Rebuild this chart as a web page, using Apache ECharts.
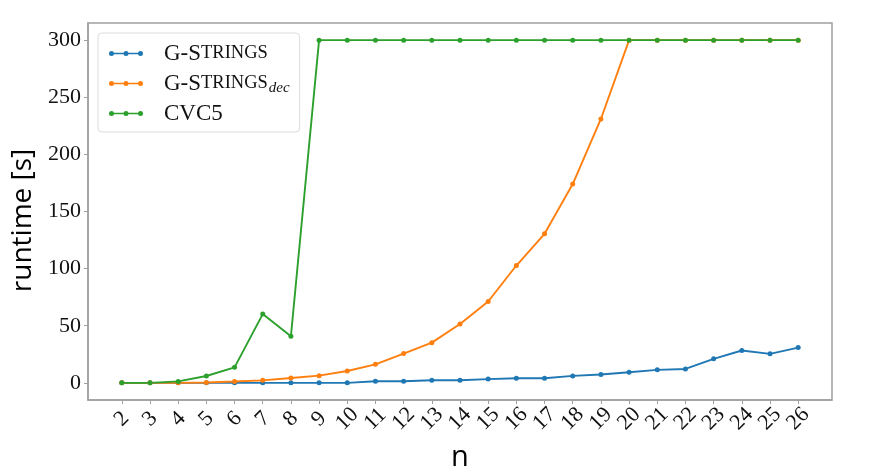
<!DOCTYPE html>
<html><head><meta charset="utf-8">
<script src="https://cdn.jsdelivr.net/npm/echarts@6/dist/echarts.min.js"></script>
<style>html,body{margin:0;padding:0;background:#fff}#c{width:877px;height:467px}</style>
</head><body><div id="c"></div>
<script>
const nValues = [2,3,4,5,6,7,8,9,10,11,12,13,14,15,16,17,18,19,20,21,22,23,24,25,26];
const gStrings = [0,0,0,0,0,0,0,0,0,1.4,1.4,2.3,2.3,3.3,4,4,6.1,7.3,9.3,11.4,12.2,21,28.3,25.4,30.9];
const gStringsDec = [0,0,0,0.3,1.2,2.2,4.3,6.3,10.4,16.2,25.6,35.2,51.5,71.2,102.7,130.5,174,231,300,300,300,300,300,300,300];
const cvc5 = [0,0,1.3,6,13.6,60.2,40.8,300,300,300,300,300,300,300,300,300,300,300,300,300,300,300,300,300,300];
const yTicks = [0,50,100,150,200,250,300];
const seriesNames = ['G-Strings','G-Strings_dec','CVC5'];
const colors = ['#1f77b4','#ff7f0e','#2ca02c'];

const pairs = arr => nValues.map((n,i)=>[n,arr[i]]);
const evenN = nValues.filter((n,i)=>i%2===0);
const oddN = nValues.filter((n,i)=>i%2===1);
const chart = echarts.init(document.getElementById('c'));
const serif = 'Liberation Serif';
const axisGray = '#a0a0a0';
const legendIcon = 'path://M2.5,1.7L31.5,1.7L31.5,3.3L2.5,3.3Z' +
  'M0,2.5a2.5,2.5 0 1,1 5,0a2.5,2.5 0 1,1 -5,0Z' +
  'M14.5,2.5a2.5,2.5 0 1,1 5,0a2.5,2.5 0 1,1 -5,0Z' +
  'M29,2.5a2.5,2.5 0 1,1 5,0a2.5,2.5 0 1,1 -5,0Z';
const mk = (name, data, color) => ({
  name, type:'line', data: pairs(data), symbol:'circle', symbolSize:5,
  lineStyle:{width:1.9,color}, itemStyle:{color}, z: 3
});
const xLabelStyle = vals => ({customValues:vals,rotate:45,align:'center',verticalAlign:'middle',margin:19,
  hideOverlap:false,fontFamily:serif,fontSize:22,color:'#111',formatter:v=>String(v)});
chart.setOption({
  animation:false,
  grid:{left:88,right:45,top:23,bottom:67,containLabel:false,outerBoundsMode:'none',
    show:true,borderColor:axisGray,borderWidth:1.5,backgroundColor:'#fff'},
  xAxis:[{type:'value',min:0.8,max:27.2,position:'bottom',
    name:'n',nameLocation:'middle',nameGap:43,
    nameTextStyle:{fontFamily:'Open Sans',fontSize:29,color:'#000'},
    axisLine:{show:true,onZero:false,lineStyle:{color:axisGray,width:1.5}},
    axisTick:{show:true,length:4,lineStyle:{color:axisGray},customValues:nValues},
    axisLabel:xLabelStyle(evenN),
    splitLine:{show:false}},
   {type:'value',min:0.8,max:27.2,position:'bottom',offset:0,
    axisLine:{show:false,onZero:false},axisTick:{show:false},
    axisLabel:xLabelStyle(oddN),
    splitLine:{show:false}}],
  yAxis:{type:'value',min:-15,max:315,
    name:'runtime [s]',nameLocation:'middle',nameGap:39,
    nameTextStyle:{fontFamily:'Open Sans',fontSize:28,color:'#000',padding:[0,18,0,0]},
    axisLine:{show:true,onZero:false,lineStyle:{color:axisGray,width:1.5}},
    axisTick:{show:true,length:4,lineStyle:{color:axisGray},customValues:yTicks},
    axisLabel:{customValues:yTicks,margin:7,fontFamily:serif,fontSize:22,color:'#111'},
    splitLine:{show:false}},
  legend:{orient:'vertical',left:98,top:33,itemWidth:34,itemHeight:5,itemGap:6,
    padding:[9,10,7,11],backgroundColor:'#fff',borderColor:'#dcdcdc',borderWidth:1,borderRadius:4,
    icon:legendIcon, itemStyle:{borderWidth:0},
    data:seriesNames,
    formatter:function(name){
      if(name==='G-Strings') return '{a|G-S}{b|TRINGS}';
      if(name==='G-Strings_dec') return '{a|G-S}{b|TRINGS}{c|dec}';
      return '{a|'+name+'}';
    },
    textStyle:{padding:[0,0,0,16],rich:{
      a:{fontFamily:serif,fontSize:23,color:'#111',lineHeight:23},
      b:{fontFamily:serif,fontSize:18.5,color:'#111',lineHeight:23},
      c:{fontFamily:serif,fontSize:15,fontStyle:'italic',color:'#111',lineHeight:23,padding:[10,0,0,1]}
    }}},
  series:[mk(seriesNames[0],gStrings,colors[0]),mk(seriesNames[1],gStringsDec,colors[1]),mk(seriesNames[2],cvc5,colors[2])]
});
</script></body></html>
